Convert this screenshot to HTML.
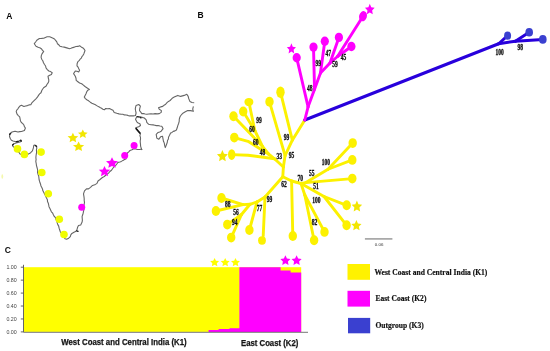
<!DOCTYPE html>
<html><head><meta charset="utf-8"><style>
html,body{margin:0;padding:0;background:#fff;}
body{width:550px;height:351px;overflow:hidden;}
svg{display:block;}
.pl{font-family:"Liberation Sans",Arial,sans-serif;font-weight:bold;font-size:8.5px;fill:#0a0a0a;}
.tl{font-family:"Liberation Serif","Times New Roman",serif;font-weight:bold;font-size:7.3px;fill:#111;stroke:#111;stroke-width:0.3px;}
.ax{font-family:"Liberation Sans",Arial,sans-serif;font-size:5.3px;fill:#444;}
.xl{font-family:"Liberation Sans",Arial,sans-serif;font-weight:bold;font-size:8.2px;fill:#151515;stroke:#151515;stroke-width:0.25px;}
.lg{font-family:"Liberation Serif","Times New Roman",serif;font-weight:bold;font-size:9.2px;fill:#111;stroke:#111;stroke-width:0.2px;}
.sc{font-family:"Liberation Sans",Arial,sans-serif;font-size:4.4px;fill:#333;}
</style></head><body>
<svg width="550" height="351" viewBox="0 0 550 351">
<rect width="550" height="351" fill="#fff"/>
<text class="pl" x="6.3" y="18.8">A</text>
<text class="pl" x="197.6" y="18.0">B</text>
<text class="pl" x="4.8" y="252.7">C</text>
<g id="map">
<polyline points="10.5,139.0 9.5,136.5 10.0,134.0 12.0,132.0 15.0,131.2 18.0,132.0 19.7,131.6 21.5,131.5 24.4,130.5 25.4,128.0 24.4,126.6 23.9,125.0 22.8,123.6 21.4,122.5 20.5,121.0 20.1,118.9 19.7,116.8 18.3,115.6 17.1,114.2 16.2,111.6 16.8,110.0 17.9,108.8 18.8,107.4 19.9,106.1 21.4,105.3 23.9,106.5 25.6,106.0 27.4,105.6 29.0,104.9 30.8,104.8 31.8,102.9 33.3,101.4 34.6,100.1 35.9,98.8 37.4,97.2 38.5,95.4 39.6,93.9 41.0,92.8 41.9,90.3 43.6,87.7 46.2,86.0 46.9,84.5 47.9,83.2 48.7,81.7 48.8,79.8 48.3,78.0 48.0,76.2 49.7,75.2 51.4,74.4 52.2,72.7 50.6,71.6 48.8,71.0 47.1,69.3 46.0,67.9 45.6,66.0 44.5,64.5 43.5,62.7 42.8,60.8 41.7,59.2 41.1,57.4 41.3,55.6 42.0,53.9 43.7,51.4 42.5,50.4 41.6,49.0 40.3,48.0 38.1,47.3 36.0,46.2 34.3,43.7 35.6,42.0 36.8,40.3 39.4,38.5 41.6,38.4 43.7,38.2 45.4,37.4 47.1,36.8 49.7,36.8 51.4,37.5 53.1,38.2 54.5,39.0 55.6,40.3 56.8,41.9 57.4,43.7 58.8,44.8 59.9,46.2 62.0,46.8 64.2,47.1 65.9,47.6 67.6,48.1 69.3,48.8 71.0,48.3 72.7,47.6 74.4,47.1 76.1,46.5 77.9,46.4 79.6,45.7 81.2,46.9 83.0,47.9 84.1,49.1 85.0,50.5 84.4,52.2 83.8,53.9 83.0,55.3 81.9,56.6 81.3,58.2 80.1,59.2 79.1,60.6 77.9,61.6 77.1,63.7 77.0,65.9 78.1,67.2 78.8,68.7 79.6,70.2 78.7,71.9 77.0,71.3 75.3,71.0 73.6,73.6 75.3,76.2 76.0,78.2 76.2,80.4 77.9,81.7 79.6,83.0 81.7,83.8 83.4,85.1 85.0,86.5 86.8,87.7 89.4,89.4 87.7,90.3 86.7,91.9 86.0,93.7 85.1,95.4 84.3,97.1 85.4,98.6 86.8,99.7 88.6,100.8 90.3,102.2 91.9,103.2 93.7,104.0 95.4,104.8 96.7,105.6 98.4,106.6 100.1,107.5 101.5,108.2 102.9,109.2 104.4,109.8 105.7,108.5 107.6,108.8 109.5,108.5 111.3,109.4 113.0,110.3 114.2,112.4 116.8,113.3 118.9,113.9 121.0,114.2 122.8,114.2 124.4,114.9 126.2,115.0 127.9,115.4 129.5,115.9 131.3,115.9 133.4,115.9 135.5,115.5 136.1,113.0 135.6,110.9 135.3,108.8 135.6,107.1 136.1,105.4 138.7,104.5 140.4,106.2 139.8,108.3 139.5,110.5 140.5,111.8 141.8,113.6 143.5,113.5 145.1,114.0 146.8,114.3 148.9,114.0 151.0,113.8 153.1,114.0 155.1,113.6 157.2,113.9 159.3,113.6 161.2,112.4 161.4,110.6 159.3,109.2 158.5,107.8 160.6,106.9 162.8,106.4 164.1,105.2 165.7,104.2 167.0,102.7 168.5,101.4 170.1,100.5 171.4,99.2 172.6,97.9 174.2,97.1 176.0,96.2 177.8,95.4 180.6,96.4 182.4,95.9 184.2,95.4 186.8,94.2 188.2,96.4 188.7,98.5 189.9,101.4 192.0,102.5 194.2,102.8" fill="none" stroke="#666" stroke-width="1.1" stroke-linejoin="round"/>
<polyline points="193.4,106.4 192.7,109.2 193.4,111.3 190.6,110.6 187.7,110.6 184.9,112.0 183.3,112.9 182.0,114.2 180.8,115.5 179.9,117.0 179.3,119.1 179.2,121.3 178.6,123.5 177.8,125.6 177.2,127.8 176.4,130.0 175.0,130.9 173.3,131.4 172.0,132.4 170.6,133.1 169.4,135.6 168.5,137.2 168.4,139.0 167.5,140.6 167.3,142.3 166.7,144.0 166.1,145.6 165.3,147.6 164.7,145.6 164.3,143.1 163.5,141.3 163.1,139.3 162.5,136.2 160.6,136.8 158.7,139.3 156.8,138.1 156.5,136.2 156.2,134.3 158.1,132.4 159.7,131.9 161.2,131.2 163.1,128.7 161.8,126.2 159.9,126.0 158.1,125.5 156.4,125.6 154.8,125.2 153.1,124.9 150.9,124.7 148.7,124.3 146.8,122.4 146.2,119.9 144.3,118.0 142.1,117.4 139.9,116.8 136.8,116.8 135.5,119.3 136.8,121.8 138.2,123.0 139.9,123.7 140.5,125.5 138.7,126.8 137.1,127.3 135.5,128.0 136.7,129.4 137.9,130.9 139.2,132.4 140.5,133.7 139.9,135.6 140.5,137.4 140.5,139.3 140.2,141.0 140.3,142.6 140.5,144.3 140.6,146.2 141.2,148.1 141.8,150.0" fill="none" stroke="#666" stroke-width="1.1" stroke-linejoin="round"/>
<polyline points="141.8,150.0 141.7,149.0 139.9,149.5 137.4,149.5 135.7,148.9 133.9,148.8 132.0,149.7 130.0,150.5 128.7,151.8 127.4,153.0 127.3,154.8 126.6,156.5 126.0,158.9 124.5,159.6 123.0,160.4 121.4,161.4 119.8,162.0 118.0,162.4 116.8,164.0 115.5,165.6 114.0,166.9 112.7,168.5 111.5,170.2 109.9,171.5 108.8,172.9 107.4,174.0 105.9,175.0 104.3,176.5 102.4,177.5 100.0,179.5 98.0,181.0 97.0,183.4 95.5,184.4 92.5,185.4 90.5,187.4 88.5,188.9 86.5,188.9 84.5,190.9 83.5,193.9 84.0,196.9 84.2,198.8 84.2,200.7 84.5,202.3 84.2,204.0 83.8,205.8 83.8,207.7 83.9,209.6 83.5,211.4 83.2,213.1 82.7,214.8 82.1,216.4 82.2,218.3 82.4,220.2 82.1,222.1 80.7,224.9 78.5,225.6 77.6,227.3 77.1,229.2 76.0,231.3 74.0,232.2 71.9,233.4 70.8,234.8 70.3,236.6 68.7,238.2 66.6,239.2 65.0,238.7 64.1,237.4 63.2,236.1 62.1,234.9 61.4,233.4 60.4,232.0 59.8,230.3 59.1,228.2 58.7,226.1 57.8,224.6 57.2,222.9 56.9,221.1 55.9,219.4 55.6,217.6 54.3,216.5 53.5,215.0 52.7,213.2 51.4,211.8 50.6,210.0 49.8,208.2 49.0,206.7 48.7,205.0 48.3,203.2 47.5,201.5 47.4,199.7 46.0,197.0 45.1,195.1 44.2,193.3 42.8,190.6 42.5,188.9 41.8,187.4 41.0,186.0 40.4,183.7 39.6,181.5 39.1,179.7 38.9,177.8 38.7,176.0 38.0,174.2 37.5,172.3 37.7,170.4 37.3,168.5 36.5,165.6 36.2,163.5 35.8,161.4 36.1,159.6 35.9,157.8 36.0,156.0 36.3,154.2 36.6,152.1 36.4,150.0 36.8,148.2 36.5,146.4 35.8,145.7 34.4,145.0 33.7,145.7 33.4,147.9 32.4,150.9 30.4,152.9 28.8,153.7 27.4,154.9 25.2,154.9 23.0,155.4 21.6,154.5 20.0,153.9 18.9,152.3 17.4,151.1 16.3,149.5 15.0,148.0 13.0,146.4 12.5,145.4 13.5,144.0 16.0,143.0 18.0,142.4 20.0,142.0 21.5,141.0 21.0,140.0 19.0,141.0 16.0,141.7 13.0,141.0 11.5,140.3 10.5,139.0" fill="none" stroke="#666" stroke-width="1.1" stroke-linejoin="round"/>
<line x1="135.8" y1="128.3" x2="140.3" y2="133.5" stroke="#111" stroke-width="1.6"/>
<line x1="9.6" y1="134.5" x2="10.4" y2="133.4" stroke="#222" stroke-width="1.3" stroke-linecap="round"/>
<line x1="16.5" y1="141.6" x2="18.2" y2="141.3" stroke="#222" stroke-width="1.3" stroke-linecap="round"/>
<line x1="20.3" y1="140.4" x2="21.4" y2="141.0" stroke="#222" stroke-width="1.3" stroke-linecap="round"/>
<line x1="12.6" y1="145.0" x2="13.4" y2="144.2" stroke="#222" stroke-width="1.3" stroke-linecap="round"/>
<line x1="137.2" y1="116.6" x2="138.4" y2="116.9" stroke="#222" stroke-width="1.3" stroke-linecap="round"/>
<line x1="139.9" y1="117.2" x2="141.0" y2="117.9" stroke="#222" stroke-width="1.3" stroke-linecap="round"/>
<line x1="76.8" y1="230.8" x2="78.0" y2="231.4" stroke="#222" stroke-width="1.3" stroke-linecap="round"/>
<line x1="35.5" y1="145.4" x2="36.6" y2="146.4" stroke="#222" stroke-width="1.3" stroke-linecap="round"/>
<ellipse cx="2.3" cy="176.5" rx="0.9" ry="2.2" fill="#e6f04a" opacity="0.45"/>
<circle cx="17.5" cy="148.9" r="3.8" fill="#f0fc00"/>
<circle cx="24.4" cy="154.4" r="3.8" fill="#f0fc00"/>
<circle cx="41.1" cy="152.1" r="3.8" fill="#f0fc00"/>
<circle cx="41.8" cy="172.5" r="3.8" fill="#f0fc00"/>
<circle cx="48.3" cy="193.8" r="3.8" fill="#f0fc00"/>
<circle cx="59.3" cy="219.2" r="3.8" fill="#f0fc00"/>
<circle cx="64.0" cy="234.5" r="3.8" fill="#f0fc00"/>
<circle cx="81.7" cy="207.3" r="3.5" fill="#ff00ff"/>
<circle cx="124.7" cy="155.4" r="3.5" fill="#ff00ff"/>
<circle cx="134.1" cy="145.5" r="3.5" fill="#ff00ff"/>
<polygon points="72.90,132.70 74.48,135.94 78.23,136.36 75.46,138.79 76.19,142.29 72.90,140.54 69.61,142.29 70.34,138.79 67.57,136.36 71.32,135.94" fill="#f2e600"/>
<polygon points="82.80,129.40 84.24,132.27 87.65,132.65 85.13,134.80 85.80,137.90 82.80,136.36 79.80,137.90 80.47,134.80 77.95,132.65 81.36,132.27" fill="#f2e600"/>
<polygon points="78.60,141.60 80.26,144.78 84.21,145.19 81.29,147.57 82.07,151.01 78.60,149.30 75.13,151.01 75.91,147.57 72.99,145.19 76.94,144.78" fill="#f2e600"/>
<polygon points="112.00,157.20 113.78,160.81 117.99,161.28 114.88,163.98 115.70,167.87 112.00,165.93 108.30,167.87 109.12,163.98 106.01,161.28 110.22,160.81" fill="#ff00ff"/>
<polygon points="104.50,166.00 106.19,169.43 110.21,169.87 107.24,172.43 108.03,176.13 104.50,174.29 100.97,176.13 101.76,172.43 98.79,169.87 102.81,169.43" fill="#ff00ff"/>
</g>
<g id="tree">
<line x1="304.8" y1="120.0" x2="292.32" y2="140.2" stroke="#fcf100" stroke-width="2.9" stroke-linecap="round"/>
<line x1="292.32" y1="140.2" x2="280.5" y2="92.2" stroke="#fcf100" stroke-width="2.9" stroke-linecap="round"/>
<line x1="292.32" y1="140.2" x2="285.08" y2="155.59" stroke="#fcf100" stroke-width="2.9" stroke-linecap="round"/>
<line x1="285.08" y1="155.59" x2="269.5" y2="101.8" stroke="#fcf100" stroke-width="2.9" stroke-linecap="round"/>
<line x1="285.08" y1="155.59" x2="283.36" y2="167.0" stroke="#fcf100" stroke-width="2.9" stroke-linecap="round"/>
<line x1="283.36" y1="167.0" x2="282.8" y2="176.8" stroke="#fcf100" stroke-width="2.9" stroke-linecap="round"/>
<line x1="283.36" y1="167.0" x2="274.5" y2="158.8" stroke="#fcf100" stroke-width="2.9" stroke-linecap="round"/>
<line x1="274.5" y1="158.8" x2="268.5" y2="154.0" stroke="#fcf100" stroke-width="2.9" stroke-linecap="round"/>
<line x1="268.5" y1="154.0" x2="262.5" y2="146.5" stroke="#fcf100" stroke-width="2.9" stroke-linecap="round"/>
<line x1="262.5" y1="146.5" x2="254.8" y2="130.5" stroke="#fcf100" stroke-width="2.9" stroke-linecap="round"/>
<line x1="254.8" y1="130.5" x2="248.9" y2="102.0" stroke="#fcf100" stroke-width="2.9" stroke-linecap="round"/>
<line x1="254.8" y1="130.5" x2="243.2" y2="111.5" stroke="#fcf100" stroke-width="2.9" stroke-linecap="round"/>
<line x1="262.5" y1="146.5" x2="233.5" y2="116.2" stroke="#fcf100" stroke-width="2.9" stroke-linecap="round"/>
<path d="M234.3,137.6 L248,141.3 L268.5,154.0" fill="none" stroke="#fcf100" stroke-width="2.9" stroke-linecap="round" stroke-linejoin="round"/>
<path d="M231.7,154.6 L248,155.2 L274.5,158.8" fill="none" stroke="#fcf100" stroke-width="2.9" stroke-linecap="round" stroke-linejoin="round"/>
<line x1="282.8" y1="176.8" x2="265.0" y2="197.0" stroke="#fcf100" stroke-width="2.9" stroke-linecap="round"/>
<line x1="265.0" y1="197.0" x2="263.2" y2="236.0" stroke="#fcf100" stroke-width="2.9" stroke-linecap="round"/>
<line x1="265.0" y1="197.0" x2="257.0" y2="202.0" stroke="#fcf100" stroke-width="2.9" stroke-linecap="round"/>
<line x1="257.0" y1="202.0" x2="249.4" y2="230.0" stroke="#fcf100" stroke-width="2.9" stroke-linecap="round"/>
<line x1="257.0" y1="202.0" x2="250.0" y2="204.3" stroke="#fcf100" stroke-width="2.9" stroke-linecap="round"/>
<line x1="250.0" y1="204.3" x2="243.0" y2="204.6" stroke="#fcf100" stroke-width="2.9" stroke-linecap="round"/>
<line x1="243.0" y1="204.6" x2="221.5" y2="198.0" stroke="#fcf100" stroke-width="2.9" stroke-linecap="round"/>
<line x1="243.0" y1="204.6" x2="215.9" y2="211.0" stroke="#fcf100" stroke-width="2.9" stroke-linecap="round"/>
<line x1="250.0" y1="204.3" x2="241.5" y2="214.5" stroke="#fcf100" stroke-width="2.9" stroke-linecap="round"/>
<line x1="241.5" y1="214.5" x2="227.3" y2="224.6" stroke="#fcf100" stroke-width="2.9" stroke-linecap="round"/>
<line x1="241.5" y1="214.5" x2="231.2" y2="237.6" stroke="#fcf100" stroke-width="2.9" stroke-linecap="round"/>
<line x1="282.8" y1="176.8" x2="291.6" y2="181.0" stroke="#fcf100" stroke-width="2.9" stroke-linecap="round"/>
<line x1="291.6" y1="181.0" x2="292.8" y2="236.0" stroke="#fcf100" stroke-width="2.9" stroke-linecap="round"/>
<line x1="291.6" y1="181.0" x2="301.0" y2="183.5" stroke="#fcf100" stroke-width="2.9" stroke-linecap="round"/>
<line x1="301.0" y1="183.5" x2="305.89" y2="182.58" stroke="#fcf100" stroke-width="2.9" stroke-linecap="round"/>
<line x1="305.89" y1="182.58" x2="328.07" y2="169.25" stroke="#fcf100" stroke-width="2.9" stroke-linecap="round"/>
<line x1="328.07" y1="169.25" x2="352.7" y2="143.1" stroke="#fcf100" stroke-width="2.9" stroke-linecap="round"/>
<line x1="328.07" y1="169.25" x2="352.3" y2="159.9" stroke="#fcf100" stroke-width="2.9" stroke-linecap="round"/>
<line x1="305.89" y1="182.58" x2="352.3" y2="178.6" stroke="#fcf100" stroke-width="2.9" stroke-linecap="round"/>
<line x1="301.0" y1="183.5" x2="324.0" y2="196.5" stroke="#fcf100" stroke-width="2.9" stroke-linecap="round"/>
<line x1="324.0" y1="196.5" x2="346.7" y2="205.3" stroke="#fcf100" stroke-width="2.9" stroke-linecap="round"/>
<line x1="324.0" y1="196.5" x2="346.6" y2="225.3" stroke="#fcf100" stroke-width="2.9" stroke-linecap="round"/>
<line x1="301.0" y1="183.5" x2="304.8" y2="195.0" stroke="#fcf100" stroke-width="2.9" stroke-linecap="round"/>
<line x1="304.8" y1="195.0" x2="314.1" y2="240.2" stroke="#fcf100" stroke-width="2.9" stroke-linecap="round"/>
<line x1="304.8" y1="195.0" x2="324.5" y2="231.9" stroke="#fcf100" stroke-width="2.9" stroke-linecap="round"/>
<ellipse cx="243.2" cy="111.5" rx="4.2" ry="4.95" fill="#fcf100"/>
<ellipse cx="233.5" cy="116.2" rx="4.2" ry="4.95" fill="#fcf100"/>
<ellipse cx="234.3" cy="137.6" rx="4.2" ry="4.95" fill="#fcf100"/>
<ellipse cx="269.5" cy="101.8" rx="4.2" ry="4.95" fill="#fcf100"/>
<ellipse cx="249.4" cy="230.0" rx="4.2" ry="4.95" fill="#fcf100"/>
<ellipse cx="221.5" cy="198.0" rx="4.2" ry="4.95" fill="#fcf100"/>
<ellipse cx="215.9" cy="211.0" rx="4.2" ry="4.95" fill="#fcf100"/>
<ellipse cx="227.3" cy="224.6" rx="4.2" ry="4.95" fill="#fcf100"/>
<ellipse cx="231.2" cy="237.6" rx="4.2" ry="4.95" fill="#fcf100"/>
<ellipse cx="352.7" cy="143.1" rx="4.2" ry="4.95" fill="#fcf100"/>
<ellipse cx="352.3" cy="159.9" rx="4.2" ry="4.95" fill="#fcf100"/>
<ellipse cx="352.3" cy="178.6" rx="4.2" ry="4.95" fill="#fcf100"/>
<ellipse cx="346.7" cy="205.3" rx="4.2" ry="4.95" fill="#fcf100"/>
<ellipse cx="346.6" cy="225.3" rx="4.2" ry="4.95" fill="#fcf100"/>
<ellipse cx="324.5" cy="231.9" rx="4.2" ry="4.95" fill="#fcf100"/>
<ellipse cx="314.1" cy="240.2" rx="4.2" ry="4.95" fill="#fcf100"/>
<ellipse cx="292.8" cy="236.0" rx="4.2" ry="4.95" fill="#fcf100"/>
<ellipse cx="248.9" cy="102.0" rx="4.5" ry="4.1" fill="#fcf100"/>
<ellipse cx="231.7" cy="154.6" rx="3.7" ry="5.3" fill="#fcf100"/>
<ellipse cx="280.5" cy="92.2" rx="4.2" ry="5.7" fill="#fcf100"/>
<ellipse cx="262.0" cy="240.5" rx="3.9" ry="4.2" fill="#fcf100"/>
<line x1="304.8" y1="120.0" x2="498.66" y2="43.75" stroke="#2800dc" stroke-width="3" stroke-linecap="round"/>
<line x1="498.66" y1="43.75" x2="507.6" y2="35.7" stroke="#2800dc" stroke-width="3" stroke-linecap="round"/>
<line x1="498.66" y1="43.75" x2="515.36" y2="41.16" stroke="#2800dc" stroke-width="3" stroke-linecap="round"/>
<line x1="515.36" y1="41.16" x2="529.2" y2="32.2" stroke="#2800dc" stroke-width="3" stroke-linecap="round"/>
<line x1="515.36" y1="41.16" x2="542.8" y2="39.4" stroke="#2800dc" stroke-width="3" stroke-linecap="round"/>
<ellipse cx="507.6" cy="35.7" rx="3.5" ry="4.1" fill="#3a40d0"/>
<ellipse cx="529.2" cy="32.2" rx="3.8" ry="4.3" fill="#3a40d0"/>
<ellipse cx="542.8" cy="39.4" rx="3.8" ry="4.4" fill="#3a40d0"/>
<line x1="304.8" y1="120.0" x2="308.09" y2="106.86" stroke="#ff00ff" stroke-width="2.9" stroke-linecap="round"/>
<line x1="308.09" y1="106.86" x2="296.7" y2="57.8" stroke="#ff00ff" stroke-width="2.9" stroke-linecap="round"/>
<line x1="308.09" y1="106.86" x2="314.54" y2="89.28" stroke="#ff00ff" stroke-width="2.9" stroke-linecap="round"/>
<line x1="314.54" y1="89.28" x2="313.5" y2="47.1" stroke="#ff00ff" stroke-width="2.9" stroke-linecap="round"/>
<line x1="314.54" y1="89.28" x2="320.46" y2="73.06" stroke="#ff00ff" stroke-width="2.9" stroke-linecap="round"/>
<line x1="320.46" y1="73.06" x2="324.8" y2="41.2" stroke="#ff00ff" stroke-width="2.9" stroke-linecap="round"/>
<line x1="320.46" y1="73.06" x2="330.0" y2="63.0" stroke="#ff00ff" stroke-width="2.9" stroke-linecap="round"/>
<line x1="330.0" y1="63.0" x2="338.9" y2="37.4" stroke="#ff00ff" stroke-width="2.9" stroke-linecap="round"/>
<line x1="330.0" y1="63.0" x2="337.5" y2="56.5" stroke="#ff00ff" stroke-width="2.9" stroke-linecap="round"/>
<line x1="337.5" y1="56.5" x2="351.4" y2="46.5" stroke="#ff00ff" stroke-width="2.9" stroke-linecap="round"/>
<line x1="337.5" y1="56.5" x2="363.0" y2="16.2" stroke="#ff00ff" stroke-width="2.9" stroke-linecap="round"/>
<ellipse cx="296.7" cy="57.8" rx="4.1" ry="4.7" fill="#ff00ff"/>
<ellipse cx="313.5" cy="47.1" rx="4.1" ry="4.7" fill="#ff00ff"/>
<ellipse cx="324.8" cy="41.2" rx="4.1" ry="4.7" fill="#ff00ff"/>
<ellipse cx="338.9" cy="37.4" rx="4.1" ry="4.7" fill="#ff00ff"/>
<ellipse cx="351.4" cy="46.5" rx="4.1" ry="4.7" fill="#ff00ff"/>
<ellipse cx="363.0" cy="16.2" rx="3.9" ry="5.2" fill="#ff00ff" transform="rotate(15 363.0 16.2)"/>
<polygon points="222.40,149.90 224.01,153.75 227.82,154.25 225.00,157.13 225.75,161.30 222.40,159.22 219.05,161.30 219.80,157.13 216.98,154.25 220.79,153.75" fill="#f2e600"/>
<polygon points="356.90,200.60 358.45,204.27 362.13,204.75 359.41,207.49 360.13,211.45 356.90,209.48 353.67,211.45 354.39,207.49 351.67,204.75 355.35,204.27" fill="#f2e600"/>
<polygon points="356.40,220.00 357.92,223.49 361.54,223.94 358.87,226.55 359.57,230.31 356.40,228.44 353.23,230.31 353.93,226.55 351.26,223.94 354.88,223.49" fill="#f2e600"/>
<polygon points="291.40,43.30 292.75,46.73 295.97,47.17 293.59,49.73 294.22,53.43 291.40,51.59 288.58,53.43 289.21,49.73 286.83,47.17 290.05,46.73" fill="#ff00ff"/>
<polygon points="369.80,3.80 371.24,7.35 374.65,7.81 372.13,10.46 372.80,14.29 369.80,12.38 366.80,14.29 367.47,10.46 364.95,7.81 368.36,7.35" fill="#ff00ff"/>
</g>
<g class="tl">
<text x="286.5" y="139.8" text-anchor="middle" textLength="5.5" lengthAdjust="spacingAndGlyphs">99</text>
<text x="279.2" y="158.5" text-anchor="middle" textLength="5.5" lengthAdjust="spacingAndGlyphs">33</text>
<text x="291.4" y="157.9" text-anchor="middle" textLength="5.5" lengthAdjust="spacingAndGlyphs">95</text>
<text x="258.9" y="122.7" text-anchor="middle" textLength="5.5" lengthAdjust="spacingAndGlyphs">99</text>
<text x="252.1" y="132.1" text-anchor="middle" textLength="5.5" lengthAdjust="spacingAndGlyphs">60</text>
<text x="255.7" y="144.9" text-anchor="middle" textLength="5.5" lengthAdjust="spacingAndGlyphs">60</text>
<text x="262.4" y="155.1" text-anchor="middle" textLength="5.5" lengthAdjust="spacingAndGlyphs">48</text>
<text x="284.0" y="186.9" text-anchor="middle" textLength="5.5" lengthAdjust="spacingAndGlyphs">62</text>
<text x="300.3" y="180.9" text-anchor="middle" textLength="5.5" lengthAdjust="spacingAndGlyphs">70</text>
<text x="311.7" y="176.3" text-anchor="middle" textLength="5.5" lengthAdjust="spacingAndGlyphs">55</text>
<text x="325.8" y="164.5" text-anchor="middle" textLength="8.2" lengthAdjust="spacingAndGlyphs">100</text>
<text x="316.0" y="188.7" text-anchor="middle" textLength="5.5" lengthAdjust="spacingAndGlyphs">51</text>
<text x="316.3" y="202.8" text-anchor="middle" textLength="8.2" lengthAdjust="spacingAndGlyphs">100</text>
<text x="314.4" y="224.5" text-anchor="middle" textLength="5.5" lengthAdjust="spacingAndGlyphs">82</text>
<text x="269.6" y="201.9" text-anchor="middle" textLength="5.5" lengthAdjust="spacingAndGlyphs">99</text>
<text x="259.4" y="211.4" text-anchor="middle" textLength="5.5" lengthAdjust="spacingAndGlyphs">77</text>
<text x="227.7" y="207.1" text-anchor="middle" textLength="5.5" lengthAdjust="spacingAndGlyphs">88</text>
<text x="236.0" y="214.7" text-anchor="middle" textLength="5.5" lengthAdjust="spacingAndGlyphs">56</text>
<text x="234.7" y="225.0" text-anchor="middle" textLength="5.5" lengthAdjust="spacingAndGlyphs">94</text>
<text x="309.7" y="91.3" text-anchor="middle" textLength="5.5" lengthAdjust="spacingAndGlyphs">48</text>
<text x="318.3" y="66.4" text-anchor="middle" textLength="5.5" lengthAdjust="spacingAndGlyphs">99</text>
<text x="328.2" y="55.9" text-anchor="middle" textLength="5.5" lengthAdjust="spacingAndGlyphs">47</text>
<text x="335.0" y="67.4" text-anchor="middle" textLength="5.5" lengthAdjust="spacingAndGlyphs">59</text>
<text x="343.6" y="59.9" text-anchor="middle" textLength="5.5" lengthAdjust="spacingAndGlyphs">45</text>
<text x="499.7" y="55.3" text-anchor="middle" textLength="8.2" lengthAdjust="spacingAndGlyphs">100</text>
<text x="520.2" y="50.2" text-anchor="middle" textLength="5.5" lengthAdjust="spacingAndGlyphs">98</text>
</g>
<line x1="364.9" y1="238.9" x2="392.4" y2="238.9" stroke="#9a9a9a" stroke-width="1.5"/>
<text class="sc" x="379.1" y="245.5" text-anchor="middle">0.06</text>
<g id="bar">
<rect x="24.0" y="267.2" width="277.2" height="64.69999999999999" fill="#ffff00"/>
<path d="M208.6,331.9 V330.0 H218.6 V329.1 H229.5 V328.2 H239.4 V267.2 H280.6 V270.4 H290.6 V272.6 H301.2 V331.9 Z" fill="#ff00ff"/>
<line x1="23.5" y1="264.8" x2="23.5" y2="332.2" stroke="#555" stroke-width="0.9"/>
<line x1="23.5" y1="332.29999999999995" x2="308" y2="332.29999999999995" stroke="#666" stroke-width="0.9"/>
<line x1="20.8" y1="331.90" x2="23.5" y2="331.90" stroke="#555" stroke-width="0.9"/>
<text x="16.7" y="333.80" text-anchor="end" class="ax">0.00</text>
<line x1="20.8" y1="318.96" x2="23.5" y2="318.96" stroke="#555" stroke-width="0.9"/>
<text x="16.7" y="320.86" text-anchor="end" class="ax">0.20</text>
<line x1="20.8" y1="306.02" x2="23.5" y2="306.02" stroke="#555" stroke-width="0.9"/>
<text x="16.7" y="307.92" text-anchor="end" class="ax">0.40</text>
<line x1="20.8" y1="293.08" x2="23.5" y2="293.08" stroke="#555" stroke-width="0.9"/>
<text x="16.7" y="294.98" text-anchor="end" class="ax">0.60</text>
<line x1="20.8" y1="280.14" x2="23.5" y2="280.14" stroke="#555" stroke-width="0.9"/>
<text x="16.7" y="282.04" text-anchor="end" class="ax">0.80</text>
<line x1="20.8" y1="267.20" x2="23.5" y2="267.20" stroke="#555" stroke-width="0.9"/>
<text x="16.7" y="269.10" text-anchor="end" class="ax">1.00</text>
<polygon points="214.60,257.90 215.98,260.64 219.07,261.08 216.83,263.21 217.36,266.22 214.60,264.80 211.84,266.22 212.37,263.21 210.13,261.08 213.22,260.64" fill="#ffff00"/>
<polygon points="225.20,257.90 226.58,260.64 229.67,261.08 227.43,263.21 227.96,266.22 225.20,264.80 222.44,266.22 222.97,263.21 220.73,261.08 223.82,260.64" fill="#ffff00"/>
<polygon points="235.50,257.90 236.88,260.64 239.97,261.08 237.73,263.21 238.26,266.22 235.50,264.80 232.74,266.22 233.27,263.21 231.03,261.08 234.12,260.64" fill="#ffff00"/>
<polygon points="285.40,255.30 286.96,258.46 290.44,258.96 287.92,261.42 288.52,264.89 285.40,263.25 282.28,264.89 282.88,261.42 280.36,258.96 283.84,258.46" fill="#ff00ff"/>
<polygon points="296.60,255.30 298.16,258.46 301.64,258.96 299.12,261.42 299.72,264.89 296.60,263.25 293.48,264.89 294.08,261.42 291.56,258.96 295.04,258.46" fill="#ff00ff"/>
</g>
<text class="xl" x="61.3" y="344.6" textLength="125.3" lengthAdjust="spacingAndGlyphs">West Coast and Central India (K1)</text>
<text class="xl" x="241.0" y="345.8" textLength="57.3" lengthAdjust="spacingAndGlyphs">East Coast (K2)</text>
<rect x="347.5" y="264" width="22.5" height="15.8" fill="#fff200"/>
<rect x="347.5" y="290.8" width="22.5" height="15.8" fill="#ff00ff"/>
<rect x="348" y="317.9" width="22.2" height="15.4" fill="#3a40d0"/>
<text class="lg" x="374.4" y="274.7" textLength="113" lengthAdjust="spacingAndGlyphs">West Coast and Central India (K1)</text>
<text class="lg" x="375.4" y="300.6" textLength="51" lengthAdjust="spacingAndGlyphs">East Coast (K2)</text>
<text class="lg" x="375.4" y="327.7" textLength="48.4" lengthAdjust="spacingAndGlyphs">Outgroup (K3)</text>
</svg>
</body></html>
